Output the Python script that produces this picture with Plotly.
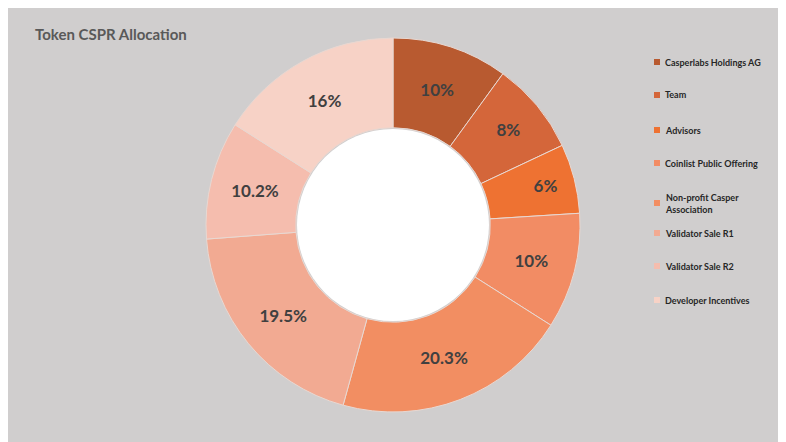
import plotly.graph_objects as go

labels = ["Casperlabs Holdings AG", "Team", "Advisors", "Coinlist Public Offering",
          "Non-profit Casper<br>Association", "Validator Sale R1", "Validator Sale R2", "Developer Incentives"]
values = [10, 8, 6, 10, 20.3, 19.5, 10.2, 16]
texts = ["10%", "8%", "6%", "10%", "20.3%", "19.5%", "10.2%", "16%"]
colors = ["#B85A30", "#D4663A", "#EE7232", "#F28C64", "#F28E62", "#F2AA92", "#F5BDAE", "#F7D2C6"]
legend_y = [62, 95, 130, 163, 203, 233, 266, 300]

W, H = 786, 442
O = 8  # page offset compensation
cx, cy, R = 393 - O, 225 - O, 187
fig = go.Figure(go.Pie(
    labels=labels, values=values, text=texts, textinfo="text", hole=0.52,
    sort=False, direction="clockwise", rotation=0,
    marker=dict(colors=colors, line=dict(color="#E8D8D2", width=1)),
    textfont=dict(family="Lato", size=17, color="#404040", weight="bold"),
    insidetextorientation="horizontal",
    domain=dict(x=[(cx-R)/W, (cx+R)/W], y=[1-(cy+R)/H, 1-(cy-R)/H]),
    showlegend=False, hoverinfo="label+value",
))
r = 96
shapes = [dict(type="circle", xref="paper", yref="paper", layer="below",
               x0=(cx-r)/W, x1=(cx+r)/W, y0=1-(cy+r)/H, y1=1-(cy-r)/H,
               fillcolor="white", line=dict(width=0))]
anns = []
for lab, c, y in zip(labels, colors, legend_y):
    yy = 1 - (y - O) / H
    shapes.append(dict(type="rect", xref="paper", yref="paper",
                       x0=(654-O)/W, x1=(660-O)/W, y0=yy-3/H, y1=yy+3/H, fillcolor=c, line=dict(width=0)))
    anns.append(dict(xref="paper", yref="paper", x=(663-O)/W, y=yy, xanchor="left", yanchor="middle",
                     text=lab, showarrow=False, align="left",
                     font=dict(family="Lato", size=9, color="#262626", weight="bold")))
anns.append(dict(xref="paper", yref="paper", x=(33-O)/W, y=1-(34-O)/H, xanchor="left", yanchor="middle",
                 text="Token CSPR Allocation", showarrow=False,
                 font=dict(family="Lato", size=15, color="#595959", weight="bold")))
fig.update_layout(width=W, height=H, margin=dict(l=0, r=0, t=0, b=0),
                  paper_bgcolor="#D0CECE", plot_bgcolor="#D0CECE",
                  shapes=shapes, annotations=anns)
fig.write_html("out.html")
